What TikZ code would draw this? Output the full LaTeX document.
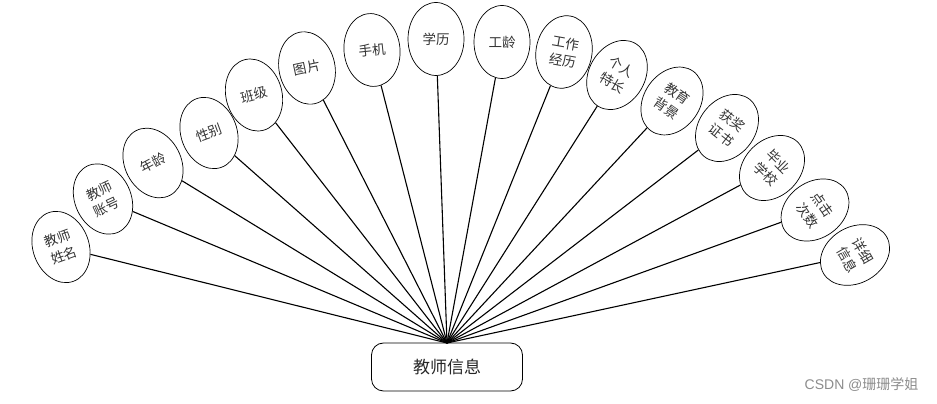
\documentclass[tikz,border=0pt]{standalone}
\usepackage{fontspec}
\newfontfamily\cjk{Noto Sans CJK SC}
\usetikzlibrary{shapes.geometric}
\begin{document}
\begin{tikzpicture}[x=1pt,y=1pt,
  attr/.style={ellipse,draw,line width=0.7pt,minimum width=56pt,minimum height=73pt,inner sep=0pt,
    align=center,font=\cjk\fontsize{13.5}{18}\selectfont,text=black!80},
  link/.style={line width=1.1pt,black},
  entity/.style={draw,line width=0.8pt,rounded corners=12pt,minimum width=151pt,minimum height=48pt,
    font=\cjk\fontsize{17}{20}\selectfont,text=black!85}]
\useasboundingbox (0,0) rectangle (937,404);
\node[entity] (c) at (447,37) {教师信息};
\coordinate (hub) at (447,61);
\node[attr,rotate=20] (e1) at (61,157) {教师\\姓名};
\node[attr,rotate=25] (e2) at (103,205) {教师\\账号};
\node[attr,rotate=28] (e3) at (153,241) {年龄};
\node[attr,rotate=20] (e4) at (209,271) {性别};
\node[attr,rotate=15] (e5) at (254,309) {班级};
\node[attr,rotate=12] (e6) at (307,336) {图片};
\node[attr,rotate=6] (e7) at (372,354) {手机};
\node[attr] (e8) at (436,365) {学历};
\node[attr] (e9) at (502,362) {工龄};
\node[attr,rotate=-10] (e10) at (564,352) {工作\\经历};
\node[attr,rotate=-30] (e11) at (617,329) {个人\\特长};
\node[attr,rotate=-35] (e12) at (672,303) {教育\\背景};
\node[attr,rotate=-38] (e13) at (727,276) {获奖\\证书};
\node[attr,rotate=-45] (e14) at (772,236) {毕业\\学校};
\node[attr,rotate=-55] (e15) at (815,194) {点击\\次数};
\node[attr,rotate=-60] (e16) at (855,149) {详细\\信息};
\foreach \i in {1,...,16} \draw[link] (e\i) -- (hub);
\node[font=\fontspec{Liberation Sans}\fontsize{14}{16}\selectfont,text=black!45,anchor=east] (wm) at (922,19) {CSDN @{\cjk 珊珊学姐}};
\end{tikzpicture}
\end{document}
